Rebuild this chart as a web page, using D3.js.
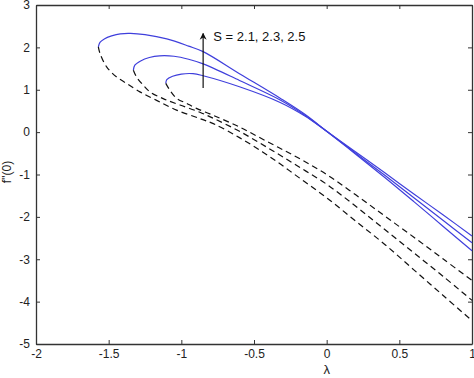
<!DOCTYPE html>
<html><head><meta charset="utf-8">
<script src="https://cdnjs.cloudflare.com/ajax/libs/d3/7.8.5/d3.min.js"></script>
<style>body{margin:0;background:#fff}svg{display:block}text{font-family:"Liberation Sans",Arial,sans-serif}</style>
</head><body><svg id="c" width="474" height="378"></svg>
<script>
// Upper (solid, blue) branches: [lambda, f''(0)]
const upperS25 = [[-1.571,2.01],[-1.56,2.12],[-1.53,2.2],[-1.48,2.27],[-1.42,2.32],[-1.35,2.33],[-1.25,2.3],[-1.1,2.2],[-0.95,2.03],[-0.85,1.9],[-0.6,1.38],[-0.32,0.8],[-0.15,0.42],[0,0.02],[0.2,-0.52],[0.4,-1.07],[0.6,-1.64],[0.8,-2.22],[1.0,-2.8]];
const upperS23 = [[-1.33,1.46],[-1.32,1.58],[-1.28,1.68],[-1.22,1.76],[-1.15,1.8],[-1.05,1.79],[-0.95,1.72],[-0.85,1.61],[-0.6,1.22],[-0.32,0.76],[-0.15,0.4],[0,0.02],[0.2,-0.5],[0.4,-1.02],[0.6,-1.55],[0.8,-2.08],[1.0,-2.61]];
const upperS21 = [[-1.107,1.15],[-1.1,1.24],[-1.06,1.32],[-1.0,1.37],[-0.92,1.38],[-0.85,1.33],[-0.6,1.07],[-0.32,0.7],[-0.15,0.38],[0,0.02],[0.2,-0.47],[0.4,-0.96],[0.6,-1.46],[0.8,-1.95],[1.0,-2.45]];
// Lower (dashed, black) branches
const lowerS25 = [[-1.571,2.01],[-1.56,1.86],[-1.514,1.54],[-1.445,1.3],[-1.377,1.15],[-1.285,0.95],[-1.17,0.75],[-1.033,0.52],[-0.873,0.32],[-0.78,0.2],[-0.6,-0.13],[-0.4,-0.56],[-0.2,-1.05],[0,-1.55],[0.2,-2.1],[0.4,-2.65],[0.6,-3.25],[0.8,-3.85],[1.0,-4.45]];
const lowerS23 = [[-1.33,1.46],[-1.308,1.3],[-1.263,1.11],[-1.216,0.95],[-1.125,0.79],[-1.01,0.64],[-0.873,0.47],[-0.77,0.31],[-0.6,0.02],[-0.4,-0.38],[-0.2,-0.8],[0,-1.23],[0.2,-1.75],[0.4,-2.3],[0.6,-2.85],[0.8,-3.4],[1.0,-3.97]];
const lowerS21 = [[-1.107,1.15],[-1.079,0.99],[-1.033,0.8],[-0.964,0.68],[-0.896,0.56],[-0.783,0.4],[-0.6,0.12],[-0.4,-0.24],[-0.2,-0.6],[0,-1.0],[0.2,-1.48],[0.4,-1.98],[0.6,-2.48],[0.8,-2.99],[1.0,-3.5]];
const xTicks = [-2,-1.5,-1,-0.5,0,0.5,1];
const yTicks = [-5,-4,-3,-2,-1,0,1,2,3];
const annotation = "S = 2.1, 2.3, 2.5";
const arrowFrom = [-0.85,1.04], arrowTo = [-0.85,2.33];

const svg = d3.select("#c");
const L=36, R=472, T=5, B=344;
const x = d3.scaleLinear().domain([-2,1]).range([L,R]);
const y = d3.scaleLinear().domain([-5,3]).range([B,T]);
const axisCol="#333", tcol="#222";

const g = svg.append("g");
const mkAxis=(axis,tr)=>{const a=g.append("g").attr("transform",tr).call(axis);a.select(".domain").attr("stroke",axisCol).attr("stroke-width",1.3);a.selectAll(".tick line").attr("stroke",axisCol);a.selectAll("text").attr("fill",tcol).style("font-size","12px");return a;};
mkAxis(d3.axisBottom(x).tickValues(xTicks).tickSize(-4).tickSizeOuter(0).tickPadding(5).tickFormat(d=>String(d)),`translate(0,${B})`);
mkAxis(d3.axisTop(x).tickValues(xTicks).tickSize(-4).tickSizeOuter(0).tickFormat(""),`translate(0,${T})`);
mkAxis(d3.axisLeft(y).tickValues(yTicks).tickSize(-4).tickSizeOuter(0).tickPadding(6).tickFormat(d=>String(d)),`translate(${L},0)`);
mkAxis(d3.axisRight(y).tickValues(yTicks).tickSize(-4).tickSizeOuter(0).tickFormat(""),`translate(${R},0)`);

const line = d3.line().x(d=>x(d[0])).y(d=>y(d[1])).curve(d3.curveCatmullRom.alpha(0.5));
svg.append("clipPath").attr("id","pc").append("rect").attr("x",L).attr("y",T).attr("width",R-L+2).attr("height",B-T);
const pg = svg.append("g").attr("clip-path","url(#pc)");
[upperS25,upperS23,upperS21].forEach(s=>pg.append("path").attr("d",line(s)).attr("fill","none").attr("stroke","#3f3fdc").attr("stroke-width",1.2));
[lowerS25,lowerS23,lowerS21].forEach(s=>pg.append("path").attr("d",line(s)).attr("fill","none").attr("stroke","#111").attr("stroke-width",1.2).attr("stroke-dasharray","6,4"));

svg.append("defs").append("marker").attr("id","ah").attr("viewBox","0 0 10 10").attr("refX",9).attr("refY",5)
 .attr("markerWidth",7).attr("markerHeight",9).attr("orient","auto").attr("markerUnits","userSpaceOnUse")
 .append("path").attr("d","M0,0 L10,5 L0,10 L3,5 Z").attr("fill","#111");
svg.append("line").attr("x1",x(arrowFrom[0])).attr("y1",y(arrowFrom[1])).attr("x2",x(arrowTo[0])).attr("y2",y(arrowTo[1]))
 .attr("stroke","#111").attr("stroke-width",1.2).attr("marker-end","url(#ah)");
svg.append("text").attr("x",x(-0.78)).attr("y",y(2.15)).attr("fill","#111").style("font-size","13px").text(annotation);

svg.append("text").attr("x",x(0)).attr("y",374).attr("text-anchor","middle").attr("fill",tcol).style("font-size","13px").text("λ");
svg.append("text").attr("transform","translate(11,172) rotate(-90)").attr("text-anchor","middle").attr("fill",tcol).style("font-size","12px").text("f''(0)");
</script></body></html>
